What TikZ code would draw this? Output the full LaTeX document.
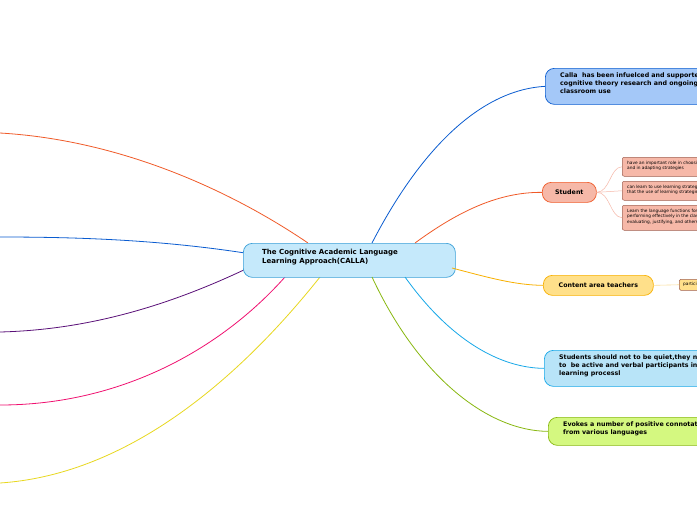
\documentclass[tikz,border=0pt]{standalone}
\usepackage{fontspec}
\setmainfont{DejaVu Sans}
\begin{document}
\begin{tikzpicture}[x=1pt,y=-1pt,
 box/.style={draw,rounded corners=9pt,line width=0.7pt},
 sbox/.style={draw,rounded corners=2pt,line width=0.5pt,fill=salmon,draw=brownb},
 lbl/.style={anchor=north west,align=left,inner sep=0pt,font=\fontsize{6.3}{8}\selectfont\bfseries},
 slbl/.style={anchor=north west,align=left,inner sep=0pt,font=\fontsize{4.3}{5.4}\selectfont},
 conn/.style={line width=0.8pt}]
\definecolor{cblue}{HTML}{0A5CD0}
\definecolor{corange}{HTML}{F05A28}
\definecolor{cpurple}{HTML}{5A1078}
\definecolor{cpink}{HTML}{F01070}
\definecolor{cyellow}{HTML}{E8D820}
\definecolor{cgold}{HTML}{F8B000}
\definecolor{ccyan}{HTML}{18A8E8}
\definecolor{cgreen}{HTML}{88B810}
\definecolor{salmon}{HTML}{F6B8A8}
\definecolor{brownb}{HTML}{A06050}
\useasboundingbox (0,0) rectangle (697,520);
\clip (0,0) rectangle (697,520);
\fill[white] (0,0) rectangle (697,520);
% center
\coordinate (c1) at (372,243); \coordinate (c2) at (415,243);
\coordinate (c3) at (452,268); \coordinate (c4) at (405,277);
\coordinate (c5) at (372,277);
\coordinate (l1) at (0,133); \coordinate (l2) at (0,237); \coordinate (l3) at (0,332);
\coordinate (l4) at (0,405); \coordinate (l5) at (0,483);
\coordinate (cl1) at (308,243); \coordinate (cl2) at (245,253); \coordinate (cl3) at (248,268);
\coordinate (cl4) at (285,277); \coordinate (cl5) at (320,277);
\draw[conn,corange] (cl1) .. controls (230,190) and (120,140) .. (l1);
\draw[conn,cblue] (cl2) .. controls (160,240) and (80,237) .. (l2);
\draw[conn,cpurple] (cl3) .. controls (160,310) and (80,330) .. (l3);
\draw[conn,cpink] (cl4) .. controls (220,350) and (120,405) .. (l4);
\draw[conn,cyellow] (cl5) .. controls (230,390) and (120,475) .. (l5);
% right nodes
\node[box,fill=blue!30!cyan!25,draw=cblue,fill={rgb,255:red,164;green,200;blue,248},minimum width=190pt,minimum height=36pt,anchor=north west] (n1) at (545,68) {};
\node[lbl] (t1) at (560,73) {Calla\ \ has been infuelced and supported by\\cognitive theory research and ongoing\\classroom use};
\node[box,fill=salmon,draw=corange,minimum width=54pt,minimum height=20pt,anchor=north west] (n2) at (542,182) {};
\node[lbl,anchor=center] (t2) at (n2) {Student};
\node[box,fill={rgb,255:red,255;green,224;blue,138},draw=cgold,minimum width=110pt,minimum height=20pt,anchor=north west] (n3) at (543,275) {};
\node[lbl,anchor=center] (t3) at (n3) {Content area teachers};
\node[box,fill={rgb,255:red,184;green,228;blue,248},draw=ccyan,minimum width=190pt,minimum height=36pt,anchor=north west] (n4) at (544,350) {};
\node[lbl] (t4) at (559,355) {Students should not to be quiet,they need\\to\ \ be active and verbal participants in the\\learning processl};
\node[box,fill={rgb,255:red,212;green,248;blue,128},draw=cgreen,minimum width=190pt,minimum height=28pt,anchor=north west] (n5) at (548,417) {};
\node[lbl] (t5) at (563,422) {Evokes a number of positive connotations\\from various languages};
% center node
\node[box,fill={rgb,255:red,197;green,233;blue,251},draw={rgb,255:red,58;green,160;blue,216},minimum width=212pt,minimum height=34pt,anchor=north west] (c) at (243,243) {};
\node[lbl,font=\fontsize{7}{9}\selectfont\bfseries] (ct) at (262,249) {The Cognitive Academic Language\\Learning Approach(CALLA)};
\draw[conn,cblue] (c1) .. controls (420,150) and (480,90) .. (n1.west);
\draw[conn,corange] (c2) .. controls (460,210) and (500,192) .. (n2.west);
\draw[conn,cgold] (c3) .. controls (490,278) and (515,285) .. (n3.west);
\draw[conn,ccyan] (c4) .. controls (450,340) and (500,368) .. (n4.west);
\draw[conn,cgreen] (c5) .. controls (420,380) and (490,431) .. (n5.west);
% student children
\node[sbox,minimum width=120pt,minimum height=19pt,anchor=north west] (s1) at (622,157) {};
\node[slbl] at (627,161) {have an important role in choosing\\and in adapting strategies};
\node[sbox,minimum width=120pt,minimum height=19pt,anchor=north west] (s2) at (622,181) {};
\node[slbl] at (627,185) {can learn to use learning strategies so\\that the use of learning strategies};
\node[sbox,minimum width=120pt,minimum height=25pt,anchor=north west] (s3) at (622,205) {};
\node[slbl] at (627,209) {Learn the language functions for\\performing effectively in the classroom\\evaluating, justifying, and others};
\draw[salmon,line width=0.5pt] (n2.east) .. controls (610,192) and (610,167) .. (s1.west);
\draw[salmon,line width=0.5pt] (n2.east) -- (s2.west);
\draw[salmon,line width=0.5pt] (n2.east) .. controls (610,192) and (610,217) .. (s3.west);
\node[draw=brownb,fill={rgb,255:red,255;green,224;blue,138},rounded corners=1.5pt,line width=0.5pt,minimum width=60pt,minimum height=11pt,anchor=north west] (k1) at (679,279) {};
\node[slbl] at (683,282) {participate};
\draw[cgold!40,line width=0.6pt] (n3.east) -- (k1.west);
\end{tikzpicture}
\end{document}
